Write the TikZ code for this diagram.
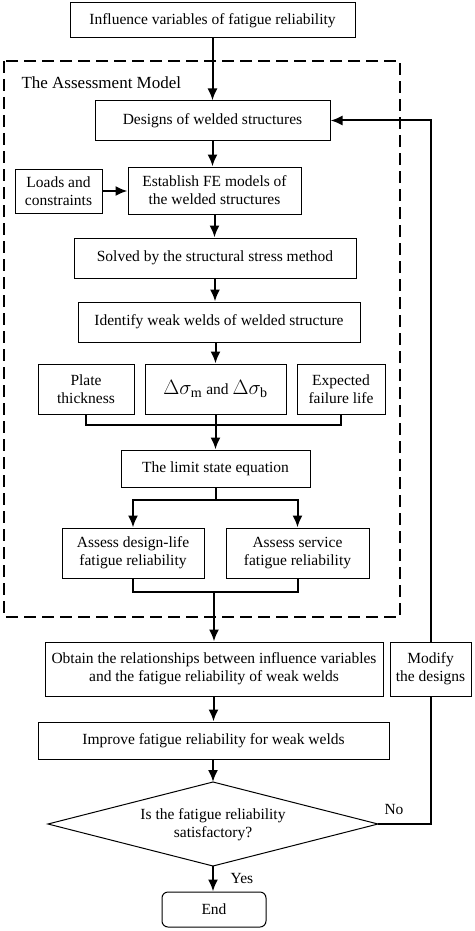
\documentclass[tikz,border=0pt]{standalone}
\usepackage{amsmath,amssymb}
\usepackage{fontspec}
\setmainfont{Liberation Serif}
\usetikzlibrary{shapes,arrows,arrows.meta,positioning,calc}

\tikzset{
box/.style={draw,line width=1pt,inner sep=0pt,align=center},
conn/.style={line width=2pt},
frame/.style={line width=1.8pt,dash pattern=on 12pt off 6pt},
}

\begin{document}
\begin{tikzpicture}[x=1pt,y=-1pt,>={Latex[length=12pt,width=10pt]},line join=miter,
every node/.style={font=\fontsize{15.5}{18}\selectfont}]
\useasboundingbox (0,0) rectangle (474,931);
\draw[frame] (4,61) rectangle (400,617);
\node[anchor=west,font=\fontsize{17}{20}\selectfont] (title) at (18,83) {The Assessment Model};

\node[box,minimum width=285,minimum height=35] (infl) at (212.5,20.5) {Influence variables of fatigue reliability};
\node[box,minimum width=235,minimum height=39] (design) at (212.5,120.5) {Designs of welded structures};
\node[box,minimum width=173,minimum height=47] (fem) at (214.5,190.5) {Establish FE models of\\the welded structures};
\node[box,minimum width=87,minimum height=44] (loads) at (58.5,191) {Loads and\\constraints};
\node[box,minimum width=282,minimum height=40] (solved) at (215,258) {Solved by the structural stress method};
\node[box,minimum width=282,minimum height=40] (weak) at (219,322) {Identify weak welds of welded structure};
\node[box,minimum width=96,minimum height=50] (plate) at (86,389) {Plate\\thickness};
\node[box,minimum width=141,minimum height=50] (delta) at (215.5,389)
  {{\fontsize{20}{20}\selectfont$\Delta\sigma_{\mathrm{m}}$} and {\fontsize{20}{20}\selectfont$\Delta\sigma_{\mathrm{b}}$}};
\node[box,minimum width=88,minimum height=50] (life) at (341,389) {Expected\\failure life};
\node[box,minimum width=189,minimum height=37] (limit) at (215.5,468.5) {The limit state equation};
\node[box,minimum width=142,minimum height=50] (design-life) at (133,553) {Assess design-life\\fatigue reliability};
\node[box,minimum width=143,minimum height=50] (service) at (297.5,553) {Assess service\\fatigue reliability};
\node[box,minimum width=338,minimum height=54] (obtain) at (214,669) {Obtain the relationships between influence variables\\and the fatigue reliability of weak welds};
\node[box,minimum width=81,minimum height=54] (modify) at (430.5,669) {Modify\\the designs};
\node[box,minimum width=351,minimum height=37] (improve) at (213.5,740.5) {Improve fatigue reliability for weak welds};
\coordinate (check-n) at (213,782);
\coordinate (check-e) at (378,824);
\coordinate (check-s) at (213,866);
\coordinate (check-w) at (48,824);
\draw[line width=1pt] (check-n) -- (check-e) -- (check-s) -- (check-w) -- cycle;
\node[align=center] (check) at (213,825) {Is the fatigue reliability\\satisfactory?};
\node[box,rounded corners=6pt,minimum width=104,minimum height=35] (end) at (214,909.5) {End};
\node (no) at (394,809) {No};
\node (yes) at (242,878) {Yes};

\coordinate (bus) at (215.5,425);
\coordinate (split) at (215.5,500);
\coordinate (join) at (214,592);

\draw[conn,->] (infl.south) -- (infl.south |- design.north);
\draw[conn,->] (design.south) -- (design.south |- fem.north);
\draw[conn,->] (loads.east) -- (loads.east -| fem.west);
\draw[conn,->] (fem.south) -- (fem.south |- solved.north);
\draw[conn,->] (solved.south) -- (solved.south |- weak.north);
\draw[conn,->] (delta.north |- weak.south) -- (delta.north);
\draw[conn] (plate.south) |- (bus) -| (life.south);
\draw[conn,->] (delta.south) -- (limit.north);
\draw[conn] (limit.south) -- (split);
\draw[conn,->] (split) -| (design-life.north);
\draw[conn,->] (split) -| (service.north);
\draw[conn] (design-life.south) |- (join) -| (service.south);
\draw[conn,->] (join) -- (join |- obtain.north);
\draw[conn,->] (obtain.south -| improve.north) -- (improve.north);
\draw[conn,->] (improve.south -| check-n) -- (check-n);
\draw[conn,->] (check-s) -- (check-s |- end.north);
\draw[conn] (check-e) -| (modify.south);
\draw[conn,->] (modify.north) |- (design.east);
\end{tikzpicture}
\end{document}
